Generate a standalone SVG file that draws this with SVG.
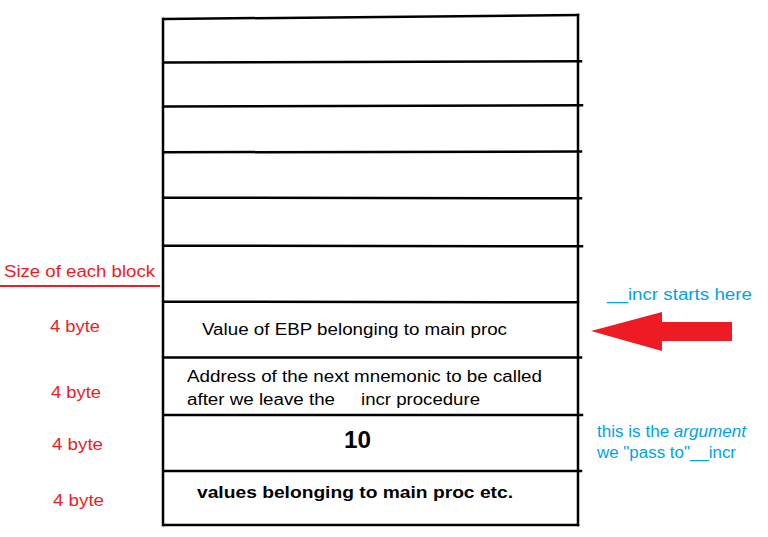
<svg xmlns="http://www.w3.org/2000/svg" width="768" height="537" viewBox="0 0 768 537">
<style>
.ln{stroke:#000;stroke-width:2.5;fill:none;stroke-linecap:square}
.t{font-family:"Liberation Sans",Arial,sans-serif;font-size:16px;fill:#000}
.b{font-weight:bold}
.red{fill:#ED1C24}
.blue{fill:#00A2E8}
</style>
<rect width="768" height="537" fill="#fff"/>
<g id="stack">
<line class="ln" x1="163" y1="19" x2="163" y2="525"/>
<line class="ln" x1="578" y1="15" x2="578" y2="525"/>
<line class="ln" x1="164" y1="19" x2="578" y2="15"/>
<line class="ln" x1="164" y1="62.5" x2="581" y2="61.3"/>
<line class="ln" x1="164" y1="106.5" x2="582" y2="105.3"/>
<line class="ln" x1="164" y1="152.3" x2="581" y2="151.5"/>
<line class="ln" x1="164" y1="197.7" x2="581" y2="198.3"/>
<line class="ln" x1="164" y1="245.7" x2="582" y2="246.3"/>
<line class="ln" x1="164" y1="301.7" x2="578" y2="302.3"/>
<line class="ln" x1="164" y1="357.5" x2="581" y2="357.5"/>
<line class="ln" x1="164" y1="415" x2="582" y2="415"/>
<line class="ln" x1="164" y1="471" x2="581" y2="471"/>
<line class="ln" x1="164" y1="525" x2="578" y2="525"/>
</g>
<g id="block-ebp"><text class="t" x="202" y="335" textLength="305" lengthAdjust="spacingAndGlyphs">Value of EBP belonging to main proc</text></g>
<g id="block-ret">
<text class="t" x="187" y="382" textLength="355" lengthAdjust="spacingAndGlyphs">Address of the next mnemonic to be called</text>
<text class="t" x="187" y="405" textLength="148" lengthAdjust="spacingAndGlyphs">after we leave the</text>
<text class="t" x="361" y="405" textLength="119" lengthAdjust="spacingAndGlyphs">incr procedure</text>
</g>
<g id="block-arg"><text class="t b" x="344" y="448" font-size="24" style="font-size:24px" textLength="27" lengthAdjust="spacingAndGlyphs">10</text></g>
<g id="block-main"><text class="t b" x="197" y="498" textLength="316" lengthAdjust="spacingAndGlyphs">values belonging to main proc etc.</text></g>
<g id="size-labels">
<text class="t red" x="4" y="277" textLength="151" lengthAdjust="spacingAndGlyphs">Size of each block</text>
<line x1="0" y1="286" x2="160" y2="286" stroke="#ED1C24" stroke-width="2"/>
<text class="t red" x="50" y="332" textLength="50" lengthAdjust="spacingAndGlyphs">4 byte</text>
<text class="t red" x="51" y="398" textLength="50" lengthAdjust="spacingAndGlyphs">4 byte</text>
<text class="t red" x="52" y="450" textLength="51" lengthAdjust="spacingAndGlyphs">4 byte</text>
<text class="t red" x="53" y="506" textLength="51" lengthAdjust="spacingAndGlyphs">4 byte</text>
</g>
<g id="pointer">
<polygon class="red" points="591,331 662,312 662,322 732,322 732,341 662,341 662,351"/>
<text class="t blue" x="607" y="300" textLength="145" lengthAdjust="spacingAndGlyphs">__incr starts here</text>
</g>
<g id="arg-note">
<text class="t blue" x="597" y="437" textLength="149" lengthAdjust="spacingAndGlyphs">this is the <tspan font-style="italic">argument</tspan></text>
<text class="t blue" x="597" y="458" textLength="139" lengthAdjust="spacingAndGlyphs">we "pass to"__incr</text>
</g>
</svg>
